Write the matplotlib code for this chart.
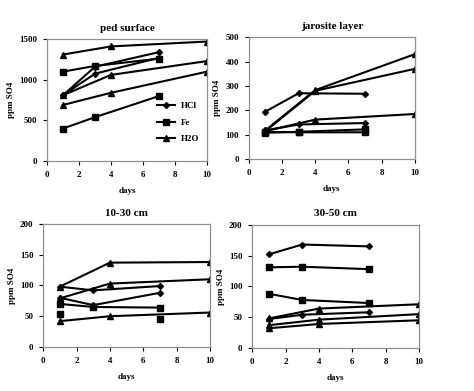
import matplotlib.pyplot as plt
import numpy as np

plt.rcParams['font.family'] = 'Liberation Serif'
plt.rcParams['font.weight'] = 'bold'

# ped surface
ped_hcl = [([1, 3, 7], [810, 1160, 1340]), ([1, 3, 7], [810, 1075, 1270])]
ped_fe = [([1, 3, 7], [400, 540, 800]), ([1, 3, 7], [1100, 1170, 1260])]
ped_h2o = [([1, 4, 10], [1310, 1410, 1470]), ([1, 4, 10], [690, 840, 1100]),
           ([1, 4, 10], [810, 1060, 1230])]

# jarosite layer
jar_hcl = [([1, 3, 7], [195, 270, 268]), ([1, 3, 7], [118, 142, 148])]
jar_fe = [([1, 3, 7], [112, 110, 110]), ([1, 3, 7], [108, 112, 122])]
jar_h2o = [([1, 4, 10], [118, 283, 430]), ([1, 4, 10], [115, 280, 370]),
           ([1, 4, 10], [115, 162, 185])]

# 10-30 cm
d1030_hcl = [([1, 3, 7], [98, 92, 99]), ([1, 3, 7], [80, 68, 88])]
d1030_fe = [([1, 3, 7], [70, 65, 64]), ([1, 3, 7], [54, np.nan, 46])]
d1030_h2o = [([1, 4, 10], [98, 137, 138]), ([1, 4, 10], [79, 103, 110]),
             ([1, 4, 10], [42, 50, 56])]

# 30-50 cm
d3050_hcl = [([1, 3, 7], [152, 168, 165]), ([1, 3, 7], [47, 54, 58])]
d3050_fe = [([1, 3, 7], [131, 132, 128]), ([1, 3, 7], [88, 78, 73])]
d3050_h2o = [([1, 4, 10], [48, 64, 71]), ([1, 4, 10], [37, 46, 55]),
             ([1, 4, 10], [32, 39, 45])]

panels = [
    ('ped surface', ped_hcl, ped_fe, ped_h2o, 1500, 500, [0.099, 0.588, 0.338, 0.312]),
    ('jarosite layer', jar_hcl, jar_fe, jar_h2o, 500, 100, [0.525, 0.593, 0.350, 0.312]),
    ('10-30 cm', d1030_hcl, d1030_fe, d1030_h2o, 200, 50, [0.091, 0.1125, 0.352, 0.315]),
    ('30-50 cm', d3050_hcl, d3050_fe, d3050_h2o, 200, 50, [0.532, 0.110, 0.352, 0.315]),
]

fig = plt.figure(figsize=(4.74, 3.91), dpi=100)

for i, (title, hcl, fe, h2o, ymax, ystep, rect) in enumerate(panels):
    ax = fig.add_axes(rect)
    for x, y in hcl:
        ax.plot(x, y, '-k', marker='D', ms=3, lw=1.5, label='HCl')
    for x, y in fe:
        ax.plot(x, y, '-k', marker='s', ms=5, lw=1.5, label='Fe')
    for x, y in h2o:
        ax.plot(x, y, '-k', marker='^', ms=5, lw=1.5, label='H2O')
    ax.set_xlim(0, 10)
    ax.set_ylim(0, ymax)
    ax.set_xticks(range(0, 11, 2))
    ax.set_yticks(np.arange(0, ymax + 1, ystep))
    ax.tick_params(labelsize=6.5, length=3, width=0.8, pad=4)
    for s in ax.spines.values():
        s.set_color('#909090')
        s.set_linewidth(0.9)
    ax.set_title(title, fontsize=8, fontweight='bold', pad=6)
    ax.set_xlabel('days', fontsize=6.5, fontweight='bold', labelpad=6)
    ax.set_ylabel('ppm SO4', fontsize=6.5, fontweight='bold', labelpad=3)
    if i == 0:
        h, l = ax.get_legend_handles_labels()
        ax.legend([h[0], h[2], h[4]], ['HCl', 'Fe', 'H2O'], loc='lower right',
                  bbox_to_anchor=(1.0, 0.08), frameon=False, fontsize=6.5,
                  handlelength=2.0, labelspacing=0.9, handletextpad=0.6)

fig.savefig('out.png', dpi=100)
